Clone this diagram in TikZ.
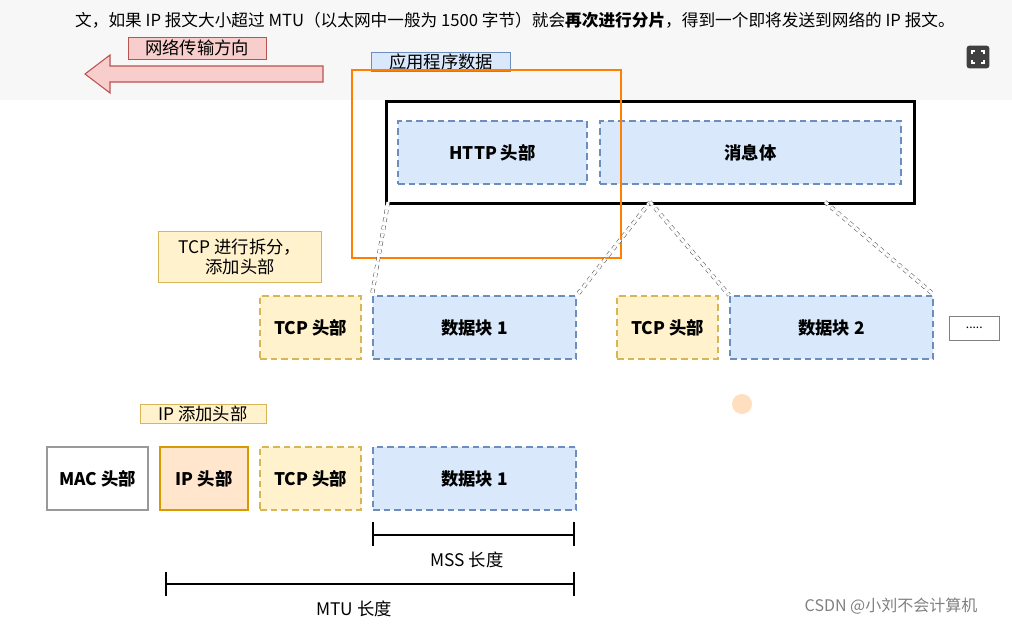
\documentclass[tikz,border=0pt]{standalone}
\usepackage{fontspec}
\setmainfont{Noto Sans CJK SC}
\definecolor{bblue}{HTML}{DAE8FC}\definecolor{dblue}{HTML}{6C8EBF}
\definecolor{byel}{HTML}{FFF2CC}\definecolor{dyel}{HTML}{D6B656}
\definecolor{bpink}{HTML}{F8CECC}\definecolor{dpink}{HTML}{B85450}
\definecolor{borg}{HTML}{FFE6CC}\definecolor{dorg}{HTML}{D79B00}
\begin{document}
\begin{tikzpicture}[x=0.75pt,y=-0.75pt,
 bx/.style={draw,minimum width=#1*0.75pt,inner sep=0pt,anchor=north west},
 blk/.style={bx=#1,line width=1.6pt,dash pattern=on 5pt off 3pt,minimum height=63*0.75pt,font=\bfseries\fontsize{13}{15}\selectfont},
 dblue/.style={blk=#1,draw=dblue,fill=bblue},
 dyel/.style={blk=#1,draw=dyel,fill=byel},
 lab/.style={draw,inner sep=2pt,font=\fontsize{13}{15}\selectfont},
 link/.style={draw=black!70,dashed,double=white,double distance=2.2pt,thin}]
\useasboundingbox (0,0) rectangle (1012,625);
\fill[gray!6] (0,0) rectangle (1012,100);
\node (top) at (515,20) {\fontsize{12.5}{14}\selectfont 文，如果 IP 报文大小超过 MTU（以太网中一般为 1500 字节）就会\textbf{再次进行分片}，得到一个即将发送到网络的 IP 报文。};
\draw[draw=dpink,fill=bpink,line width=0.8pt] (323,66)--(110,66)--(110,55)--(85,74)--(110,93)--(110,82)--(323,82)--cycle;
\node[lab,draw=dpink,fill=bpink,minimum width=138*0.75pt] (dir) at (197,48) {网络传输方向};
\node[lab,draw=dblue,fill=bblue,minimum width=139*0.75pt,inner sep=1pt] (app) at (441,62) {应用程序数据};
\node[fill=black!75,rounded corners=2pt,minimum size=17pt,inner sep=0pt] (icon) at (978,57) {};
\draw[white,thick] (972,54)--(972,51)--(975,51) (981,51)--(984,51)--(984,54) (984,60)--(984,63)--(981,63) (975,63)--(972,63)--(972,60);
\node[bx=528,minimum height=102*0.75pt,line width=2pt] (big) at (385,100) {};
\node[dblue=189] (http) at (397,120) {HTTP 头部};
\node[dblue=301] (msg) at (599,120) {消息体};
\draw[orange,line width=1.5pt] (352,70) rectangle (621,258);
\node[lab,draw=dyel,fill=byel,minimum width=163*0.75pt,minimum height=51*0.75pt,align=center,inner sep=0pt] (tcpl) at (240,257) {TCP 进行拆分，\\添加头部};
\node[dyel=101] (t1) at (259,295) {TCP 头部};
\node[dblue=203] (d1) at (372,295) {数据块 1};
\node[dyel=101] (t2) at (616,295) {TCP 头部};
\node[dblue=203] (d2) at (729,295) {数据块 2};
\node[bx=50,draw=gray,minimum height=24*0.75pt,font=\small] (dots) at (949,316) {.....};
\coordinate (b1) at (388,202); \coordinate (b2) at (650,202); \coordinate (b3) at (825,202);
\draw[link] (b1) -- (d1.north west);
\draw[link] (b2) -- (d1.north east);
\draw[link] (b2) -- (d2.north west);
\draw[link] (b3) -- (d2.north east);
\fill[orange!25] (742,404) circle (10);
\node[lab,draw=dyel,fill=byel,minimum width=126*0.75pt,inner sep=1pt] (ipl) at (203,414) {IP 添加头部};
\node[blk=101,draw=gray!80,fill=white,solid] (mac) at (46,446) {MAC 头部};
\node[blk=88,draw=dorg,fill=borg,solid] (ip) at (159,446) {IP 头部};
\node[dyel=101] (t3) at (259,446) {TCP 头部};
\node[dblue=203] (d3) at (372,446) {数据块 1};
\draw[thick] (373,522)--(373,546) (574,522)--(574,546) (373,535)--(574,535);
\node[font=\fontsize{13}{15}\selectfont] (mss) at (467,560) {MSS 长度};
\draw[thick] (166,572)--(166,596) (574,572)--(574,596) (166,584)--(574,584);
\node[font=\fontsize{13}{15}\selectfont] (mtu) at (354,609) {MTU 长度};
\node[text=gray,font=\fontsize{12}{14}\selectfont] (wm) at (891,606) {CSDN @小刘不会计算机};
\end{tikzpicture}
\end{document}
